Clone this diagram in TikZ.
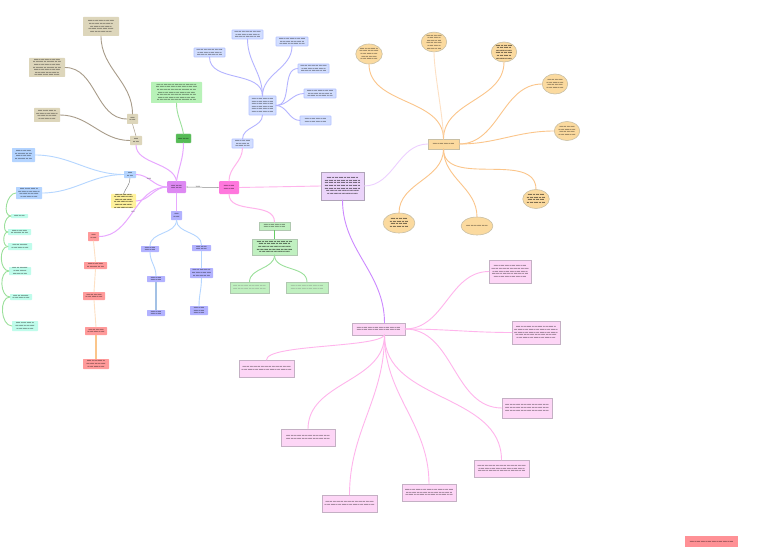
\documentclass[tikz,border=0pt]{standalone}
\usepackage{fontspec}
\setmainfont{Liberation Sans}
\usetikzlibrary{shapes.geometric,arrows.meta}
\newcommand\tinyf{\fontsize{2.0}{2.6}\selectfont}
\newcommand\tinyb{\fontsize{2.0}{2.6}\selectfont\bfseries}
% \bx{name}{style}{x0}{y0}{x1}{y1}{lines of filler}: the reference text is illegible, x's stand in for it
\newcommand\bx[7]{%
  \pgfmathsetmacro\tw{#5-#3-4}%
  \pgfmathtruncatemacro\nn{max(1,#7*\tw/11.2)}%
  \node[boxbase,#2,text width=\tw pt,minimum width={(#5-#3)*1pt},minimum height={(#6-#4)*1pt}]
    (#1) at ({(#3+#5)/2},{-(#4+#6)/2}) {\foreach \i in {1,...,\nn}{xxxx xx xxx }};}
\newcommand\el[7]{%
  \pgfmathsetmacro\tw{#5*1.5}%
  \pgfmathtruncatemacro\nn{max(1,#7*\tw/11.2)}%
  \node[boxbase,#2,ellipse,text width=\tw pt,minimum width={#5*2pt},minimum height={#6*2pt}]
    (#1) at (#3,-#4) {\foreach \i in {1,...,\nn}{xxxx xx xxx }};}
\tikzset{
  boxbase/.style={inner sep=0pt,outer sep=0pt,align=center,font=\tinyf,text=black},
  tanbox/.style={fill=tanf,rounded corners=0.6pt},
  bluebox/.style={fill=bluef,rounded corners=0.6pt},
  tealbox/.style={fill=tealf,rounded corners=0.6pt},
  redbox/.style={fill=redf,rounded corners=0.6pt},
  peribox/.style={fill=perif,rounded corners=0.6pt},
  yelbox/.style={fill=yelf,rounded corners=0.6pt,font=\tinyb},
  ltblue/.style={fill=ltbf,draw=ltbd,line width=0.6pt,rounded corners=0.5pt},
  lgreen/.style={fill=lgrf,rounded corners=0.6pt},
  dgreen/.style={fill=dgrf,draw=dgrd,line width=0.4pt,rounded corners=0.6pt},
  qbox/.style={fill=qf,draw=qd,line width=0.7pt},
  qlight/.style={fill=qf,draw=qd,line width=0.7pt,text=black!55},
  mainv/.style={fill=mainvf,rounded corners=1pt},
  mainp/.style={fill=mainpf,rounded corners=1pt},
  lilac/.style={fill=lilacf,draw=lilacd,line width=0.8pt,font=\tinyb},
  pkbox/.style={fill=pkf,draw=pkd,line width=0.8pt},
  orbox/.style={fill=orf,draw=ord,line width=0.6pt},
  legendbox/.style={fill=legf},
  edgelab/.style={inner sep=0.3pt,font=\fontsize{2.2}{2.6}\selectfont,text=black!70},
  ee/.style={line width=0.9pt,line cap=round},
  etan/.style={ee,draw=tane},
  eblue/.style={ee,draw=bluee},
  eblueT/.style={line width=1.6pt,draw=bluee!90!black},
  egr/.style={ee,draw=gre},
  egrT/.style={line width=1.1pt,draw=grT},
  evio/.style={ee,line width=1pt,draw=vioe},
  eviol/.style={ee,draw=viol},
  evioT/.style={ee,line width=0.9pt,draw=vioT},
  epk/.style={ee,draw=pke},
  eper/.style={ee,draw=pere},
  eor/.style={ee,draw=ore},
  eorl/.style={ee,draw=orl},
  eorT/.style={line width=1.5pt,draw=ore},
  egray/.style={line width=0.5pt,draw=black!45},
}
\definecolor{tanf}{HTML}{DDD6BB}\definecolor{tane}{HTML}{A89C8A}
\definecolor{bluef}{HTML}{B4D4FF}\definecolor{bluee}{HTML}{B5D6FF}
\definecolor{tealf}{HTML}{BFFCEB}\definecolor{gre}{HTML}{9BE09B}
\definecolor{redf}{HTML}{FF9A9A}\definecolor{perif}{HTML}{B2B2FF}
\definecolor{yelf}{HTML}{FFF29C}
\definecolor{ltbf}{HTML}{D2DEFF}\definecolor{ltbd}{HTML}{B4C2FF}
\definecolor{lgrf}{HTML}{B8F2B8}\definecolor{dgrf}{HTML}{55BB55}\definecolor{dgrd}{HTML}{88CC88}
\definecolor{qf}{HTML}{C0F0C0}\definecolor{qd}{HTML}{B0C8B0}\definecolor{grT}{HTML}{66CC66}
\definecolor{mainvf}{HTML}{DD88F2}\definecolor{mainpf}{HTML}{FF77DD}
\definecolor{lilacf}{HTML}{EBD4FA}\definecolor{lilacd}{HTML}{AFA3B8}
\definecolor{pkf}{HTML}{FDD6F6}\definecolor{pkd}{HTML}{C4B0C4}
\definecolor{orf}{HTML}{FBDA9F}\definecolor{ord}{HTML}{C8BFA5}
\definecolor{legf}{HTML}{FF9196}
\definecolor{vioe}{HTML}{E8A8FF}\definecolor{viol}{HTML}{EDD0FF}\definecolor{vioT}{HTML}{CC88FF}
\definecolor{pke}{HTML}{FFB4EC}\definecolor{pere}{HTML}{B4B4FF}
\definecolor{ore}{HTML}{FBC58A}\definecolor{orl}{HTML}{FDE0C4}
\begin{document}
\begin{tikzpicture}[x=1pt,y=1pt]
\useasboundingbox[fill=white] (0,0) rectangle (768,-559);
% tan group
\bx{A}{tanbox}{83}{17}{119}{36}{4}
\bx{B}{tanbox}{29}{58}{65}{77}{6}
\bx{C}{tanbox}{34}{108}{60}{122}{4}
\bx{D}{tanbox}{127}{114}{138}{124}{3}
\bx{E}{tanbox}{130}{136}{142}{145}{2}
% blue
\bx{F}{bluebox}{12}{148}{35}{162}{4}
\bx{G}{bluebox}{124}{171}{136}{178}{2}
\bx{N}{bluebox}{16}{187}{42}{199}{4}
\bx{O}{yelbox}{111}{194}{136}{208}{5}
% teal chain
\bx{T1}{tealbox}{11}{214}{28}{218}{1}
\bx{T2}{tealbox}{8}{229}{31}{235}{2}
\bx{T3}{tealbox}{8}{243}{32}{250}{2}
\bx{T4}{tealbox}{9}{267}{31}{275}{3}
\bx{T5}{tealbox}{10}{294}{32}{300}{2}
\bx{T6}{tealbox}{12}{321}{38}{331}{3}
% red chain
\bx{R0}{redbox}{88}{232}{99}{241}{2}
\bx{R1}{redbox}{84}{262}{107}{269}{2}
\bx{R2}{redbox}{83}{292}{105}{300}{2}
\bx{R3}{redbox}{85}{327}{107}{335}{2}
\bx{R4}{redbox}{83}{359}{109}{369}{3}
% main
\bx{I}{lgreen}{151}{82}{202}{103}{6}
\bx{H}{dgreen}{176}{134}{191}{143}{2}
\bx{J}{mainv}{167}{181}{186}{193}{2}
\bx{K}{mainp}{219}{181}{239}{194}{2}
\bx{L}{lilac}{321}{172}{364}{200}{6}
% light blue group
\bx{M0}{ltblue}{232}{139}{253}{148}{3}
\bx{MH}{ltblue}{249}{96}{276}{115}{6}
\bx{M1}{ltblue}{194}{48}{225}{57}{3}
\bx{M2}{ltblue}{232}{30}{263}{39}{3}
\bx{M3}{ltblue}{276}{37}{308}{46}{3}
\bx{M4}{ltblue}{298}{64}{329}{73}{3}
\bx{M5}{ltblue}{304}{89}{336}{98}{3}
\bx{M6}{ltblue}{300}{116}{331}{125}{2}
% periwinkle
\bx{P0}{peribox}{171}{211}{182}{220}{3}
\bx{P1}{peribox}{141}{246}{159}{252}{2}
\bx{P2}{peribox}{147}{276}{165}{282}{2}
\bx{P3}{peribox}{147}{310}{165}{316}{2}
\bx{P4}{peribox}{192}{245}{211}{251}{2}
\bx{P5}{peribox}{190}{268}{213}{278}{3}
\bx{P6}{peribox}{190}{306}{208}{315}{3}
% green
\bx{Q0}{qbox}{259}{222}{290}{230}{2}
\bx{Q1}{qbox,font=\tinyb}{252}{239}{297}{255}{4}
\bx{Q2}{qlight}{230}{282}{269}{293}{2}
\bx{Q3}{qlight}{286}{282}{328}{293}{2}
% orange
\bx{OH}{orbox}{428}{139}{459}{149}{1}
\el{E1}{orbox}{369}{54}{12.5}{10}{5}
\el{E2}{orbox}{434}{42}{12}{9.5}{5}
\el{E3}{orbox,font=\tinyb}{504}{52}{12}{10}{5}
\el{E4}{orbox}{555}{84}{12}{10}{4}
\el{E5}{orbox}{567}{131}{12}{9.5}{4}
\el{E6}{orbox,font=\tinyb}{536}{199}{12.5}{9.5}{4}
\el{E7}{orbox}{477}{226}{15}{9}{1}
\el{E8}{orbox,font=\tinyb}{399}{223}{15}{10}{3}
% pink
\bx{PH}{pkbox}{352}{323}{405}{335}{2}
\bx{PK1}{pkbox}{489}{260}{531}{283}{5}
\bx{PK2}{pkbox}{512}{321}{560}{344}{5}
\bx{PK3}{pkbox}{502}{398}{552}{418}{3}
\bx{PK4}{pkbox}{474}{460}{529}{477}{3}
\bx{PK5}{pkbox}{402}{484}{456}{501}{3}
\bx{PK6}{pkbox}{322}{495}{377}{512}{2}
\bx{PK7}{pkbox}{281}{429}{335}{446}{2}
\bx{PK8}{pkbox}{239}{360}{294}{377}{2}
\bx{LG}{legendbox}{685}{536}{738}{547}{1}
\coordinate (PHs) at ([xshift=6pt]PH.south);
\coordinate (PHn) at ([xshift=6pt]PH.north);
% edges
\draw[etan] (A.south) to[out=-90,in=90] (D.north);
\draw[etan] (B.east) to[out=0,in=180,looseness=1] (D.west);
\draw[etan] (C.east) to[out=0,in=180] (E.west);
\draw[etan,line width=0.5pt] (E.north) -- (D.south);
\draw[evio] (E.south) to[out=-90,in=100,looseness=.9] (J.north);
\draw[eblue] (F.east) to[out=0,in=180] (G.west);
\draw[eblue] (N.east) to[out=0,in=180] (G.west);
\draw[evio] (G.east) to[out=0,in=180] (J.west);
\draw[egray] (G.south) to[out=-90,in=70] (O.north);
\draw[evio] (O.east) to[out=0,in=180] (J.west);
\draw[evio] (R0.east) to[out=0,in=180] (J.west);
\draw[egr] (I.south) to[out=-90,in=100] (H.north);
\draw[evio] (H.south) to[out=-90,in=80] (J.north);
\draw[evio] (J.south) -- (P0.north);
\draw[egray,{Latex[length=1.5pt]}-{Latex[length=1.5pt]}] (J.east) -- (K.west);
\draw[epk,line width=1pt] (K.north) to[out=90,in=-90] (M0.south);
\draw[eper] (M0.north) to[out=90,in=-90] (MH.south);
\draw[eper] (MH.north) to[out=90,in=-90] (M1.south);
\draw[eper] (MH.north) to[out=90,in=-90] (M2.south);
\draw[eper] (MH.north) to[out=90,in=-90] (M3.south);
\draw[eper] (MH.east) to[out=0,in=180] (M4.west);
\draw[eper] (MH.east) to[out=0,in=180] (M5.west);
\draw[eper] (MH.east) to[out=0,in=180] (M6.west);
\draw[epk] (K.east) -- (L.west);
\draw[epk,line width=1pt] (K.south) to[out=-90,in=90] (Q0.north);
\draw[egrT] (Q0.south) -- (Q1.north);
\draw[egr] (Q1.south) to[out=-90,in=90] (Q2.north);
\draw[egr] (Q1.south) to[out=-90,in=90] (Q3.north);
\draw[eblue] (P0.south) to[out=-90,in=90] (P1.north);
\draw[eblue] (P0.south) to[out=-90,in=90] (P4.north);
\draw[eblue] (P1.south) to[out=-90,in=90] (P2.north);
\draw[eblueT] (P2.south) -- (P3.north);
\draw[eblue] (P4.south) -- (P5.north);
\draw[eblue] (P5.south) to[out=-90,in=90] (P6.north);
\draw[egr] (N.west) to[out=180,in=180] (T1.west);
\draw[egr] (T1.west) to[out=180,in=180] (T2.west);
\draw[egr] (T2.west) to[out=180,in=180] (T3.west);
\draw[egr] (T3.west) to[out=180,in=180] (T4.west);
\draw[egr] (T4.west) to[out=180,in=180] (T5.west);
\draw[egr] (T5.west) to[out=180,in=180] (T6.west);
\draw[eorl] (R0.south) -- (R1.north);
\draw[eorl] (R1.south) -- (R2.north);
\draw[eorl] (R2.south) -- (R3.north);
\draw[eorT] (R3.south) -- (R4.north);
\draw[eviol] (L.east) to[out=0,in=180] (OH.west);
\draw[eor] (OH.north) to[out=90,in=-90] (E1.south);
\draw[eorl] (OH.north) to[out=90,in=-90,looseness=.6] (E2.south);
\draw[eor] (OH.north) to[out=90,in=-90] (E3.south);
\draw[eor] (OH.east) to[out=0,in=180] (E4.west);
\draw[eor] (OH.east) to[out=0,in=180] (E5.west);
\draw[eor] (OH.south) to[out=-90,in=90] (E6.north);
\draw[eor] (OH.south) to[out=-90,in=90] (E7.north);
\draw[eor] (OH.south) to[out=-90,in=90] (E8.north);
\draw[evioT] (L.south) to[out=-90,in=90] (PHn);
\draw[epk] (PH.east) to[out=0,in=180] (PK1.west);
\draw[epk] (PH.east) to[out=0,in=180] (PK2.west);
\draw[epk] (PH.east) to[out=0,in=180] (PK3.west);
\draw[epk] (PHs) to[out=-90,in=90] (PK4.north);
\draw[epk] (PHs) to[out=-90,in=90] (PK5.north);
\draw[epk] (PHs) to[out=-90,in=90] (PK6.north);
\draw[epk] (PHs) to[out=-90,in=90] (PK7.north);
\draw[epk] (PHs) .. controls (378,-348) and (266,-344) .. (PK8.north);
\node[edgelab] (l1) at (149,-179) {xxxx};
\node[edgelab] (l2) at (133,-212) {xxx};
\node[edgelab] (l3) at (198,-187) {xxxx};
\end{tikzpicture}
\end{document}
